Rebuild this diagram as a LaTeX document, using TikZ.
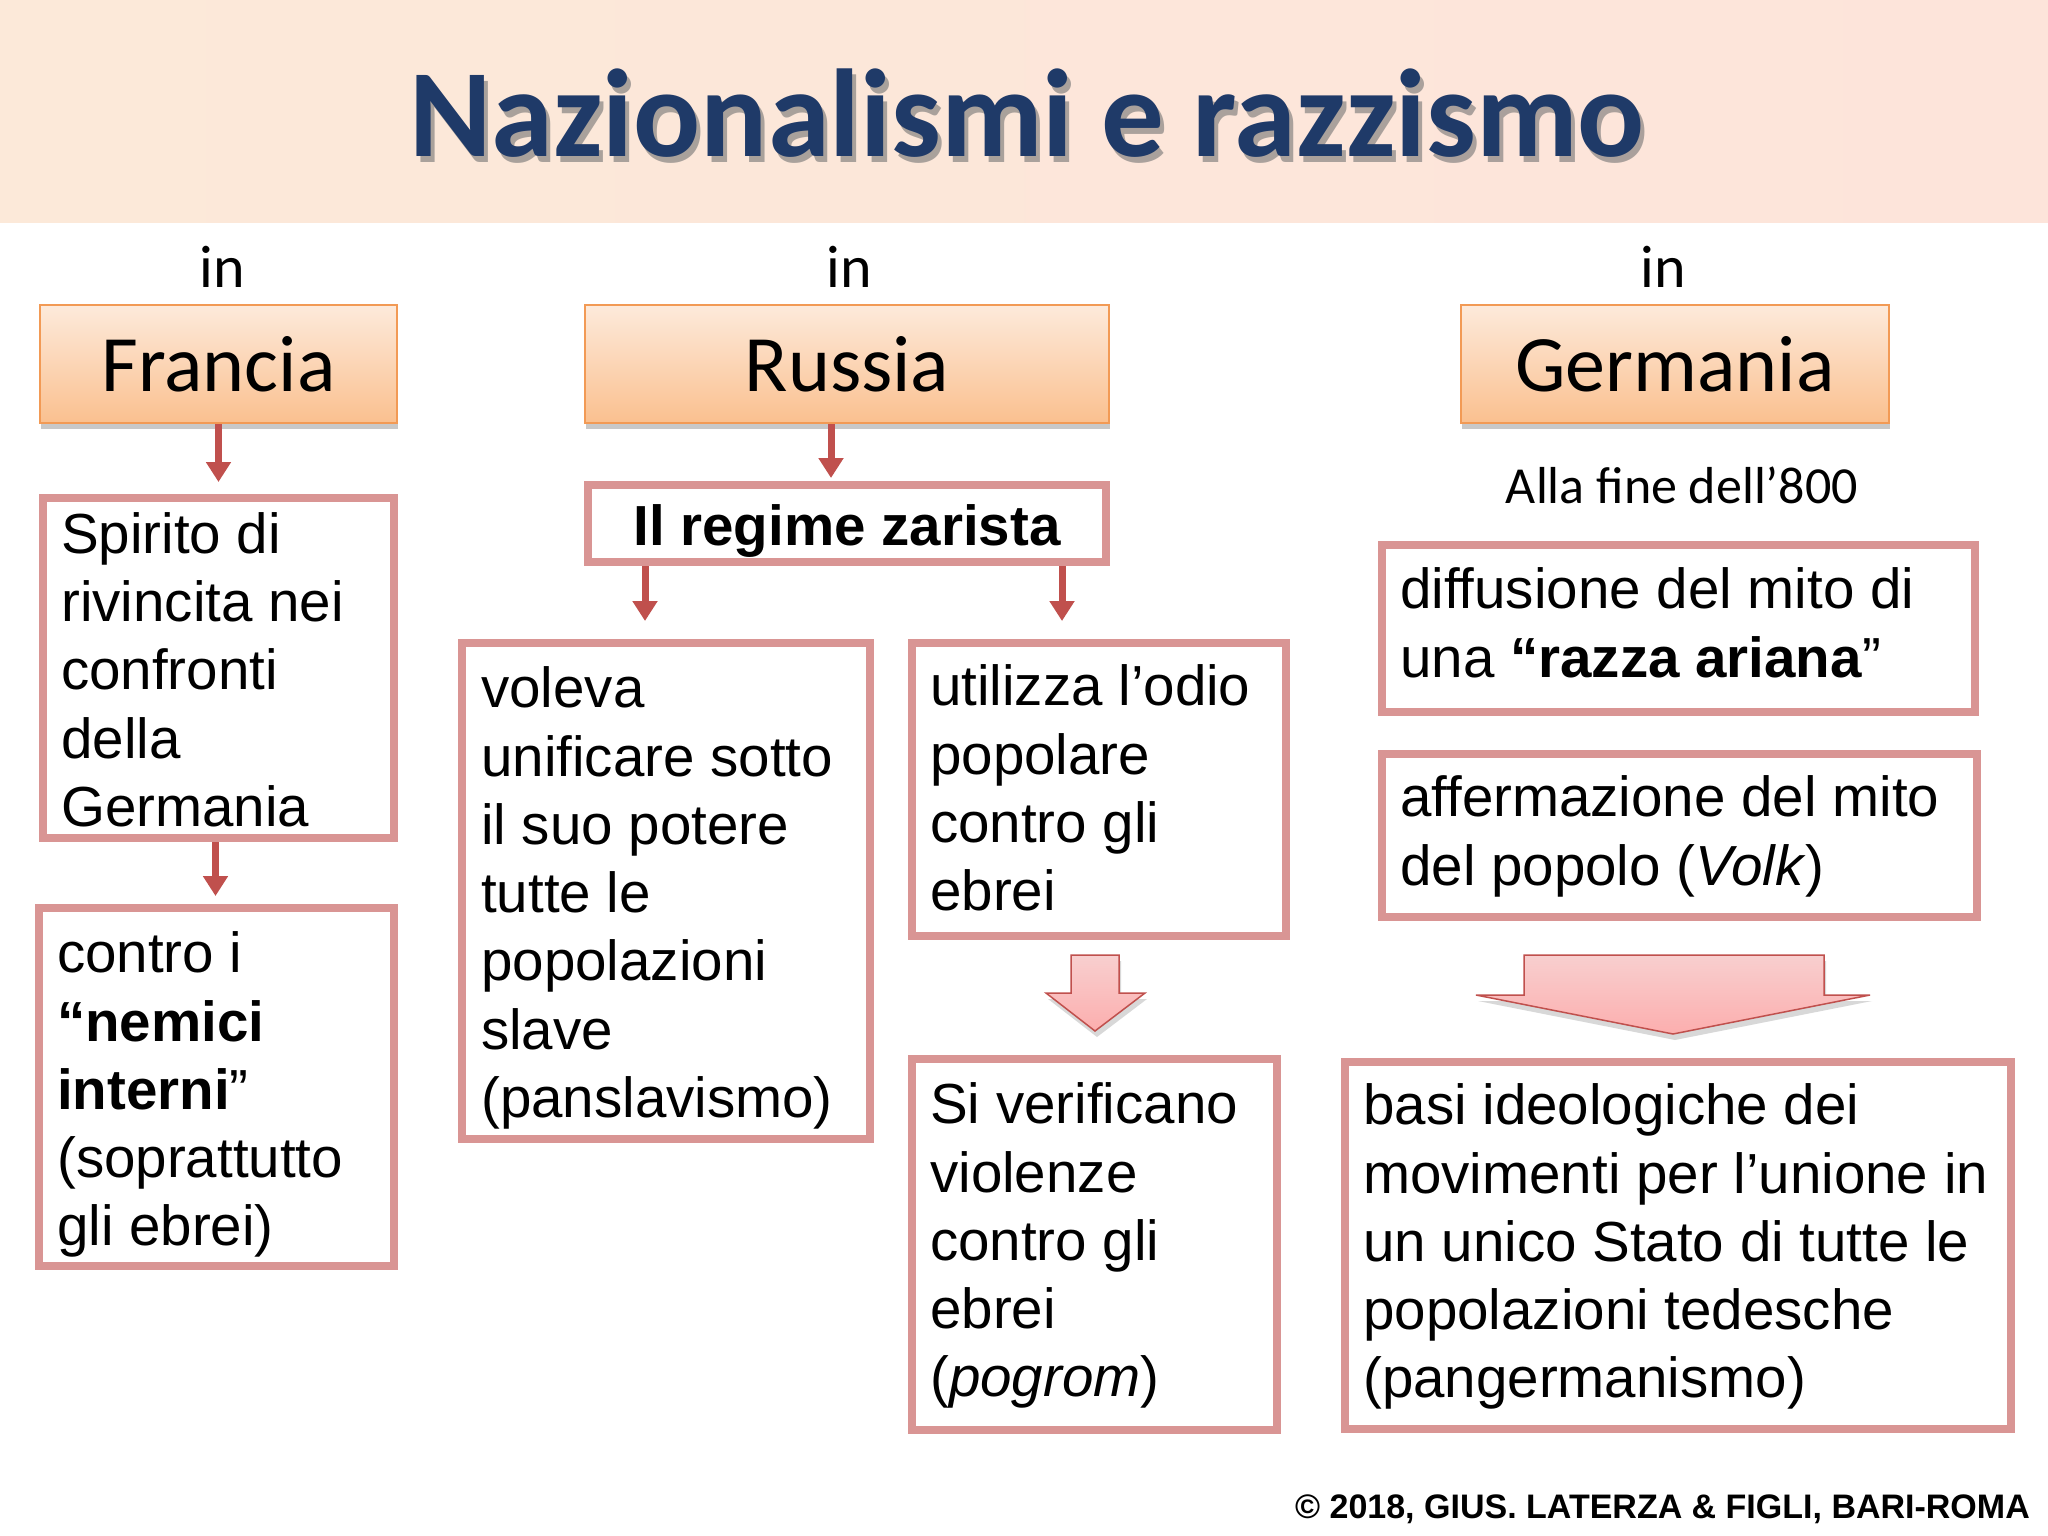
\documentclass[tikz,border=0pt]{standalone}
\usepackage{fontspec}
\setmainfont{Liberation Sans}
\newfontfamily\calibri{Carlito}
\usetikzlibrary{arrows.meta,shadows,calc}
\definecolor{bandL}{HTML}{FCE9D9}
\definecolor{bandR}{HTML}{FDE4DA}
\definecolor{titlec}{HTML}{1F3A68}
\definecolor{hdrtop}{HTML}{FDEADB}
\definecolor{hdrbot}{HTML}{FAC08F}
\definecolor{hdrborder}{HTML}{F29A55}
\definecolor{pboxc}{HTML}{D99594}
\definecolor{arrowc}{HTML}{C0504D}
\definecolor{bigtop}{HTML}{F8CFCF}
\definecolor{bigbot}{HTML}{FCAEAE}
\newcommand{\firstln}{\rule{0pt}{45pt}}
\tikzset{
  hdr/.style={draw=hdrborder, line width=2pt, top color=hdrtop, bottom color=hdrbot,
    inner sep=0pt, font=\calibri\fontsize{80}{96}\selectfont,
    drop shadow={shadow xshift=1pt, shadow yshift=-6pt, opacity=0.3, fill=black!70}},
  pbox/.style={draw=pboxc, line width=8pt, fill=white, inner sep=0pt},
  txt/.style={anchor=north west, inner sep=0pt, align=left, font=\fontsize{56.5}{68.3}\selectfont},
  sarrow/.style={draw=arrowc, line width=7pt, -{Triangle[width=24pt,length=20pt]}},
  bigarrow/.style={draw=arrowc, line width=1.5pt, top color=bigtop, bottom color=bigbot,
    line join=miter,
    drop shadow={shadow xshift=2pt, shadow yshift=-6pt, opacity=0.25, fill=black!60}},
  inlbl/.style={anchor=base, inner sep=0pt, font=\calibri\fontsize{60}{72}\selectfont}
}
\begin{document}
\begin{tikzpicture}[x=1pt,y=-1pt]
\useasboundingbox (0,0) rectangle (2048,1536);
\fill[white] (0,0) rectangle (2048,1536);
% title band
\shade[left color=bandL, right color=bandR] (0,0) rectangle (2048,222);
\node[anchor=base, inner sep=0pt, text=black!55, opacity=0.6, font=\calibri\bfseries\fontsize{125}{140}\selectfont] (titleshadow) at (1031,162) {Nazionalismi e razzismo};
\node[anchor=base, inner sep=0pt, text=titlec, font=\calibri\bfseries\fontsize{125}{140}\selectfont] (title) at (1027,157) {Nazionalismi e razzismo};

% "in" labels
\node[inlbl] (in1) at (222,287) {in};
\node[inlbl] (in2) at (849,287) {in};
\node[inlbl] (in3) at (1663,287) {in};

% header boxes
\node[hdr, minimum width=357pt, minimum height=118pt] (francia) at (218.5,364) {Francia};
\node[hdr, minimum width=524pt, minimum height=118pt] (russia) at (847,364) {Russia};
\node[hdr, minimum width=428pt, minimum height=118pt] (germania) at (1675,364) {Germania};

% Francia column
\node[pbox, minimum width=351pt, minimum height=340pt] (spirito) at (218.5,668) {};
\node[txt] (tspirito) at (61,508) {\firstln Spirito di\\rivincita nei\\confronti\\della\\Germania};
\node[pbox, minimum width=355pt, minimum height=358pt] (contro) at (216.5,1087) {};
\node[txt] (tcontro) at (57,927.5) {\firstln contro i\\\textbf{“nemici}\\\textbf{interni}”\\(soprattutto\\gli ebrei)};
\draw[sarrow, shorten >=12pt] (francia.south) -- (spirito.north);
\draw[sarrow, shorten >=8pt] ([xshift=-3pt]spirito.south) -- ([xshift=-1pt]contro.north);

% Russia column
\node[pbox, minimum width=518pt, minimum height=77pt] (regime) at (847,523.5) {};
\node[anchor=base, inner sep=0pt, font=\bfseries\fontsize{56.5}{68.3}\selectfont] (tregime) at (847,545) {Il regime zarista};
\draw[sarrow, shorten >=3pt] ([xshift=-16pt]russia.south) -- ([xshift=-16pt]regime.north);
\node[pbox, minimum width=408pt, minimum height=496pt] (voleva) at (666,891) {};
\node[txt] (tvoleva) at (481,662.5) {\firstln voleva\\unificare sotto\\il suo potere\\tutte le\\popolazioni\\slave\\(panslavismo)};
\node[pbox, minimum width=374pt, minimum height=293pt] (utilizza) at (1099,789.5) {};
\node[txt] (tutilizza) at (930,660.5) {\firstln utilizza l’odio\\popolare\\contro gli\\ebrei};
\draw[sarrow, shorten >=18pt] ([xshift=-202pt]regime.south) -- ([xshift=-21pt]voleva.north);
\draw[sarrow, shorten >=18pt] ([xshift=215pt]regime.south) -- ([xshift=-37pt]utilizza.north);
\path[bigarrow] (1071,955) -- (1119,955) -- (1119,993) -- (1145,993) -- (1095,1031)
  -- (1046,993) -- (1071,993) -- cycle;
\node[pbox, minimum width=365pt, minimum height=371pt] (siverif) at (1094.5,1244.5) {};
\node[txt] (tsiverif) at (930,1078.5) {\firstln Si verificano\\violenze\\contro gli\\ebrei\\(\textit{pogrom})};

% Germania column
\node[anchor=base, inner sep=0pt, font=\calibri\fontsize{52}{62}\selectfont] (fine) at (1682,503) {Alla fine dell’800};
\node[pbox, minimum width=593pt, minimum height=167pt] (diffusione) at (1678.5,628.5) {};
\node[txt] (tdiffusione) at (1400,563.5) {\firstln diffusione del mito di\\una \textbf{“razza ariana}”};
\node[pbox, minimum width=595pt, minimum height=163pt] (affermazione) at (1679.5,835.5) {};
\node[txt] (taffermazione) at (1400,771.5) {\firstln affermazione del mito\\del popolo (\textit{Volk})};
\path[bigarrow] (1524,955) -- (1824,955) -- (1824,995) -- (1870,995) -- (1673,1034)
  -- (1476,995) -- (1524,995) -- cycle;
\node[pbox, minimum width=666pt, minimum height=367pt] (basi) at (1678,1245.5) {};
\node[txt] (tbasi) at (1363,1079.5) {\firstln basi ideologiche dei\\movimenti per l’unione in\\un unico Stato di tutte le\\popolazioni tedesche\\(pangermanismo)};

% copyright
\node[anchor=base east, inner sep=0pt, font=\bfseries\fontsize{34}{40}\selectfont] (copy) at (2030,1518) {© 2018, GIUS. LATERZA \& FIGLI, BARI-ROMA};
\end{tikzpicture}
\end{document}
